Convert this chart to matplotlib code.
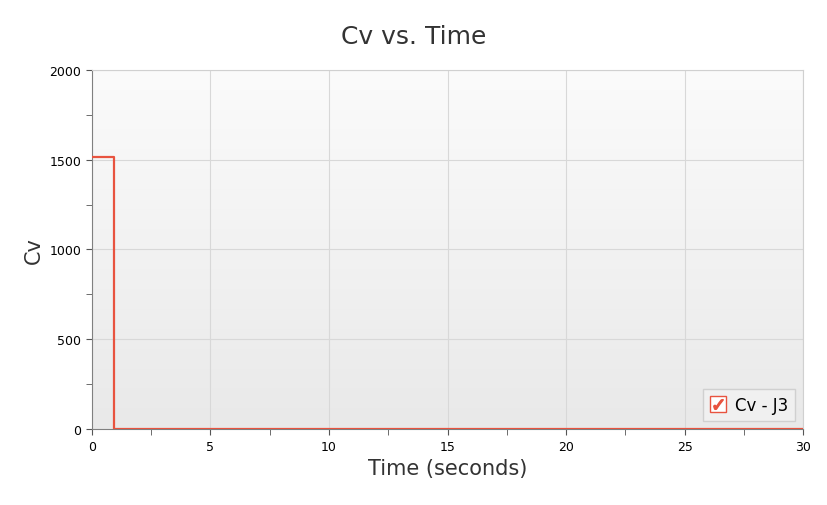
import matplotlib.pyplot as plt
import numpy as np
from matplotlib.lines import Line2D
from matplotlib.legend_handler import HandlerTuple

# Cv step data
time_s = [0, 0.95, 0.95, 30]
cv_j3 = [1512, 1512, 0, 0]

red = "#e8533f"
fig = plt.figure(figsize=(8.28, 5.06), dpi=100)
ax = fig.add_axes([0.111, 0.150, 0.859, 0.710])

# gradient background
grad = np.linspace(0, 1, 256).reshape(-1, 1)
ax.imshow(grad, extent=[0, 30, 0, 2000], aspect="auto", cmap=plt.matplotlib.colors.LinearSegmentedColormap.from_list("g", ["#fbfbfb", "#e9e9e9"]), origin="upper", zorder=0)

ax.plot(time_s, cv_j3, color=red, lw=1.6, zorder=3)

ax.set_xlim(0, 30)
ax.set_ylim(0, 2000)
ax.set_xticks(range(0, 31, 5))
ax.set_xticks(np.arange(0, 30.1, 2.5), minor=True)
ax.set_yticks(range(0, 2001, 500))
ax.set_yticks(range(0, 2001, 250), minor=True)
ax.grid(True, which="major", color="#d8d8d8", lw=0.8, zorder=1)
ax.tick_params(labelsize=9, colors="#555555", labelcolor="black", length=4)
ax.tick_params(which="minor", length=4, colors="#555555")
for s in ["top", "right"]:
    ax.spines[s].set_color("#d0d0d0")
for s in ["left", "bottom"]:
    ax.spines[s].set_color("#808080")

ax.set_xlabel("Time (seconds)", fontsize=15, color="#333333")
ax.set_ylabel("Cv", fontsize=15, color="#333333")
fig.suptitle("Cv vs. Time", fontsize=18, color="#333333", y=0.95)

box = Line2D([], [], marker="s", ms=11, mfc="white", mec=red, ls="none")
chk = Line2D([], [], marker="$\u2713$", ms=7, color=red, ls="none")
leg = ax.legend([(box, chk)], ["Cv - J3"], handler_map={tuple: HandlerTuple(ndivide=1, pad=0)},
                loc="lower right", fontsize=12, fancybox=False, framealpha=1,
                handlelength=1.0, handletextpad=0.5, borderaxespad=0.5)
leg.get_frame().set_edgecolor("#d0d0d0")
leg.get_frame().set_facecolor("#f0f0f0")

fig.savefig("out.png")
